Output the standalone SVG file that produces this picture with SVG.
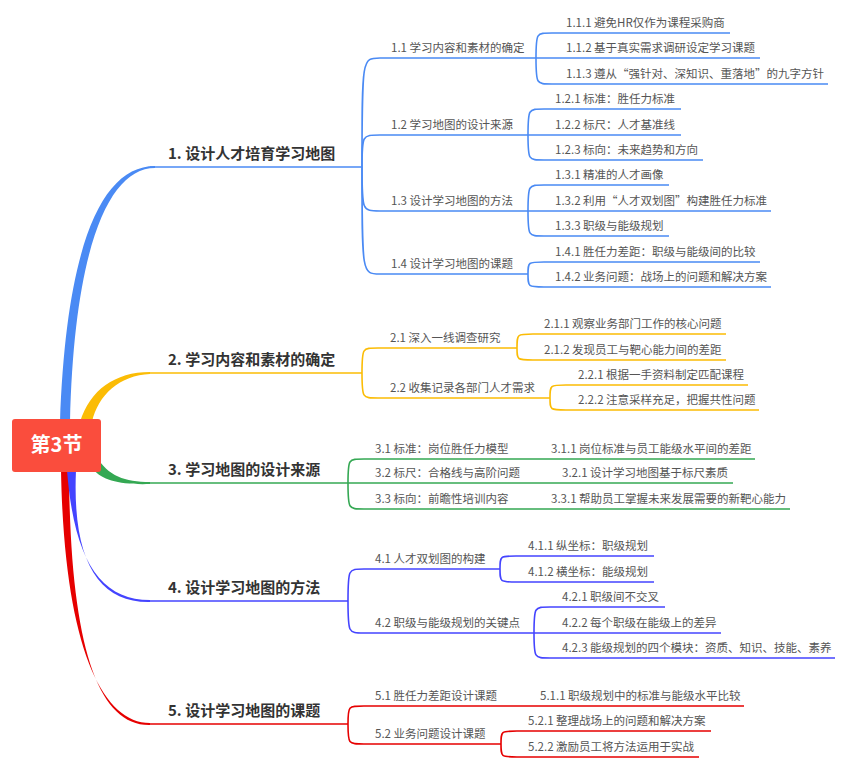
<svg xmlns="http://www.w3.org/2000/svg" width="849" height="765" viewBox="0 0 849 765">
<style>
text{font-family:"Noto Sans CJK SC","Noto Sans",sans-serif;fill:#555;font-size:11.5px}
.l1{font-size:15px;font-weight:bold;fill:#333}
.root{font-size:20px;font-weight:bold;fill:#fff}
.c g path{fill:none;stroke-width:1.6}
.b1{stroke:#4a8af4}.b2{stroke:#fbbc05}.b3{stroke:#34a853}.b4{stroke:#4444ff}.b5{stroke:#e60000}
</style>
<rect width="849" height="765" fill="#fff"/>
<g id="connectors" class="c">
<path d="M60 422 C66 250 100 166 155 166 L155 168 C108 168 74 250 70 422 Z" style="fill:#4a8af4;stroke:none"/>
<path d="M80 422 C90 390 115 372 150 372 L150 374 C120 375 98 395 92 422 Z" style="fill:#fbbc05;stroke:none"/>
<path d="M96 456 C108 476 125 482 150 482 L150 484 C120 485 102 480 94 470 Z" style="fill:#34a853;stroke:none"/>
<path d="M61 470 C64 640 100 723 150 723 L150 725 C96 726 70 640 69 470 Z" style="fill:#e60000;stroke:none"/>
<path d="M67 470 C74 560 100 600 150 600 L150 602 C98 603 72 560 76 470 Z" style="fill:#4444ff;stroke:none"/>
<g class="b1">
<path d="M150 167 H362"/>
<path d="M362 167 C362 58 362 58 380 58 H536"/>
<path d="M362 167 C362 135 362 135 380 135 H528"/>
<path d="M362 167 C362 211 362 211 380 211 H528"/>
<path d="M362 167 C362 274 362 274 380 274 H528"/>
<path d="M536 58 C536 33 536 33 552 33 H730"/>
<path d="M536 58 H760"/>
<path d="M536 58 C536 84 536 84 552 84 H828"/>
<path d="M528 135 C528 109 528 109 544 109 H681"/>
<path d="M528 135 H681"/>
<path d="M528 135 C528 160 528 160 544 160 H703"/>
<path d="M528 211 C528 185 528 185 544 185 H669"/>
<path d="M528 211 H771"/>
<path d="M528 211 C528 236 528 236 544 236 H669"/>
<path d="M528 274 C528 262 528 262 544 262 H760"/>
<path d="M528 274 C528 287 528 287 544 287 H771"/>
</g>
<g class="b2">
<path d="M150 373 H362"/>
<path d="M362 373 C362 348 362 348 378 348 H517"/>
<path d="M362 373 C362 398 362 398 378 398 H550"/>
<path d="M517 348 C517 334 517 334 533 334 H726"/>
<path d="M517 348 C517 360 517 360 533 360 H726"/>
<path d="M550 398 C550 385 550 385 566 385 H748"/>
<path d="M550 398 C550 410 550 410 566 410 H759"/>
</g>
<g class="b3">
<path d="M150 483 H348"/>
<path d="M348 483 C348 459 348 459 364 459 H755"/>
<path d="M348 483 H733"/>
<path d="M348 483 C348 509 348 509 364 509 H790"/>
</g>
<g class="b4">
<path d="M150 601 H348"/>
<path d="M348 601 C348 569 348 569 364 569 H500"/>
<path d="M348 601 C348 633 348 633 364 633 H534"/>
<path d="M500 569 C500 556 500 556 516 556 H654"/>
<path d="M500 569 C500 582 500 582 516 582 H654"/>
<path d="M534 633 C534 607 534 607 550 607 H665"/>
<path d="M534 633 H721"/>
<path d="M534 633 C534 658 534 658 550 658 H835"/>
</g>
<g class="b5">
<path d="M150 724 H348"/>
<path d="M348 724 C348 706 348 706 364 706 H744"/>
<path d="M348 724 C348 744 348 744 364 744 H501"/>
<path d="M501 744 C501 731 501 731 517 731 H711"/>
<path d="M501 744 C501 757 501 757 517 757 H699"/>
</g>
</g>
<g id="root"><rect x="12" y="419" width="89" height="53" rx="3" fill="#fa4d3d"/><text class="root" x="56.5" y="452" text-anchor="middle">第3节</text></g>
<g id="n1"><text class="l1" x="168" y="159">1. 设计人才培育学习地图</text></g>
<g id="n11"><text x="391" y="52">1.1 学习内容和素材的确定</text></g>
<g id="n111"><text x="566" y="27">1.1.1 避免HR仅作为课程采购商</text></g>
<g id="n112"><text x="566" y="52">1.1.2 基于真实需求调研设定学习课题</text></g>
<g id="n113"><text x="566" y="78">1.1.3 遵从“强针对、深知识、重落地”的九字方针</text></g>
<g id="n12"><text x="391" y="129">1.2 学习地图的设计来源</text></g>
<g id="n121"><text x="555" y="103">1.2.1 标准：胜任力标准</text></g>
<g id="n122"><text x="555" y="129">1.2.2 标尺：人才基准线</text></g>
<g id="n123"><text x="555" y="154">1.2.3 标向：未来趋势和方向</text></g>
<g id="n13"><text x="391" y="205">1.3 设计学习地图的方法</text></g>
<g id="n131"><text x="555" y="179">1.3.1 精准的人才画像</text></g>
<g id="n132"><text x="555" y="205">1.3.2 利用“人才双划图”构建胜任力标准</text></g>
<g id="n133"><text x="555" y="230">1.3.3 职级与能级规划</text></g>
<g id="n14"><text x="391" y="268">1.4 设计学习地图的课题</text></g>
<g id="n141"><text x="555" y="256">1.4.1 胜任力差距：职级与能级间的比较</text></g>
<g id="n142"><text x="555" y="281">1.4.2 业务问题：战场上的问题和解决方案</text></g>
<g id="n2"><text class="l1" x="168" y="365">2. 学习内容和素材的确定</text></g>
<g id="n21"><text x="390" y="342">2.1 深入一线调查研究</text></g>
<g id="n211"><text x="544" y="328">2.1.1 观察业务部门工作的核心问题</text></g>
<g id="n212"><text x="544" y="354">2.1.2 发现员工与靶心能力间的差距</text></g>
<g id="n22"><text x="390" y="392">2.2 收集记录各部门人才需求</text></g>
<g id="n221"><text x="578" y="379">2.2.1 根据一手资料制定匹配课程</text></g>
<g id="n222"><text x="578" y="404">2.2.2 注意采样充足，把握共性问题</text></g>
<g id="n3"><text class="l1" x="168" y="475">3. 学习地图的设计来源</text></g>
<g id="n31"><text x="375" y="453">3.1 标准：岗位胜任力模型</text></g>
<g id="n311"><text x="551" y="453">3.1.1 岗位标准与员工能级水平间的差距</text></g>
<g id="n32"><text x="375" y="477">3.2 标尺：合格线与高阶问题</text></g>
<g id="n321"><text x="562" y="477">3.2.1 设计学习地图基于标尺素质</text></g>
<g id="n33"><text x="375" y="503">3.3 标向：前瞻性培训内容</text></g>
<g id="n331"><text x="551" y="503">3.3.1 帮助员工掌握未来发展需要的新靶心能力</text></g>
<g id="n4"><text class="l1" x="168" y="593">4. 设计学习地图的方法</text></g>
<g id="n41"><text x="375" y="563">4.1 人才双划图的构建</text></g>
<g id="n411"><text x="528" y="550">4.1.1 纵坐标：职级规划</text></g>
<g id="n412"><text x="528" y="576">4.1.2 横坐标：能级规划</text></g>
<g id="n42"><text x="375" y="627">4.2 职级与能级规划的关键点</text></g>
<g id="n421"><text x="562" y="601">4.2.1 职级间不交叉</text></g>
<g id="n422"><text x="562" y="627">4.2.2 每个职级在能级上的差异</text></g>
<g id="n423"><text x="562" y="652">4.2.3 能级规划的四个模块：资质、知识、技能、素养</text></g>
<g id="n5"><text class="l1" x="168" y="716">5. 设计学习地图的课题</text></g>
<g id="n51"><text x="375" y="700">5.1 胜任力差距设计课题</text></g>
<g id="n511"><text x="540" y="700">5.1.1 职级规划中的标准与能级水平比较</text></g>
<g id="n52"><text x="375" y="738">5.2 业务问题设计课题</text></g>
<g id="n521"><text x="528" y="725">5.2.1 整理战场上的问题和解决方案</text></g>
<g id="n522"><text x="528" y="751">5.2.2 激励员工将方法运用于实战</text></g>
</svg>
